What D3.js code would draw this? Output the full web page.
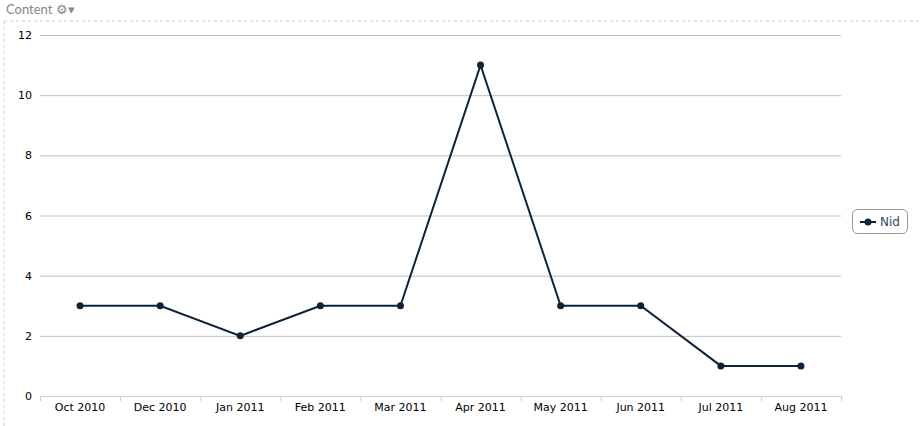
<!DOCTYPE html>
<html><head><meta charset="utf-8">
<script src="https://cdn.jsdelivr.net/npm/d3@7"></script>
<style>body{margin:0;background:#fff;font-family:"DejaVu Sans",sans-serif}</style>
</head><body><svg id="c" width="920" height="426"></svg>
<script>
const categories=["Oct 2010","Dec 2010","Jan 2011","Feb 2011","Mar 2011","Apr 2011","May 2011","Jun 2011","Jul 2011","Aug 2011"];
const values=[3,3,2,3,3,11,3,3,1,1];
const yTicks=[0,2,4,6,8,10,12];
const seriesName="Nid";
const svg=d3.select("#c");
const L=40,R=841,T=35,B=396,col="#0d233a";
// header
svg.append("text").attr("x",6).attr("y",14).attr("font-size",13).attr("fill","#888").attr("font-family","Lato,sans-serif").text("Content ⚙▾");
svg.append("line").attr("x1",4).attr("x2",920).attr("y1",21).attr("y2",21).attr("stroke","#ccc").attr("stroke-dasharray","3,3");
svg.append("line").attr("x1",4).attr("x2",4).attr("y1",21).attr("y2",426).attr("stroke","#ccc").attr("stroke-dasharray","3,3");
const x=d3.scaleBand().domain(categories).range([L,R]);
const y=d3.scaleLinear().domain([0,12]).range([B,T]);
const g=svg.append("g").attr("font-size",11);
g.selectAll(".gl").data(yTicks.filter(d=>d>0)).join("line").attr("x1",L).attr("x2",R).attr("y1",d=>y(d)+.5).attr("y2",d=>y(d)+.5).attr("stroke","#c0c0c0");
g.selectAll(".yl").data(yTicks).join("text").attr("x",L-8).attr("y",d=>y(d)+4).attr("text-anchor","end").attr("fill","#000").text(d=>d);
g.append("line").attr("x1",L).attr("x2",R).attr("y1",B+.5).attr("y2",B+.5).attr("stroke","#c0d0e0");
const bounds=categories.map(c=>x(c)).concat([R]);
g.selectAll(".tk").data(bounds).join("line").attr("x1",d=>d+.5).attr("x2",d=>d+.5).attr("y1",B).attr("y2",B+5).attr("stroke","#c0d0e0");
g.selectAll(".xl").data(categories).join("text").attr("x",d=>x(d)+x.bandwidth()/2).attr("y",B+15).attr("text-anchor","middle").attr("fill","#000").text(d=>d);
const cx=(d,i)=>x(categories[i])+x.bandwidth()/2;
svg.append("path").datum(values).attr("fill","none").attr("stroke",col).attr("stroke-width",2)
 .attr("d",d3.line().x(cx).y(d=>y(d)));
svg.selectAll(".pt").data(values).join("circle").attr("cx",cx).attr("cy",d=>y(d)).attr("r",3.5).attr("fill",col);
const lg=svg.append("g");
lg.append("rect").attr("x",852.5).attr("y",209.5).attr("width",55).attr("height",24).attr("rx",5).attr("fill","#fff").attr("stroke","#999");
lg.append("line").attr("x1",860).attr("x2",876).attr("y1",222).attr("y2",222).attr("stroke",col).attr("stroke-width",2);
lg.append("circle").attr("cx",868).attr("cy",222).attr("r",3.5).attr("fill",col);
lg.append("text").attr("x",880).attr("y",226).attr("font-size",12).attr("fill","#274b6d").text(seriesName);
</script></body></html>
